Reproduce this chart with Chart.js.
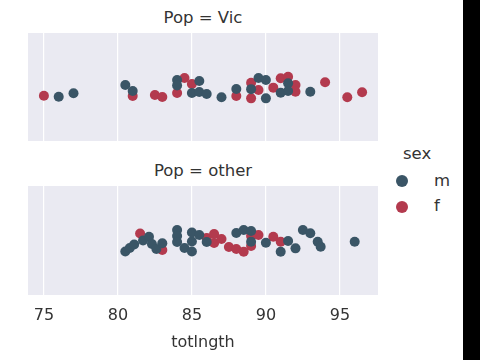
<!DOCTYPE html>
<html>
<head>
<meta charset="utf-8">
<script src="https://cdn.jsdelivr.net/npm/chart.js@4.4.1/dist/chart.umd.min.js"></script>
<style>
  body { margin: 0; background: #fff; font-family: 'DejaVu Sans', sans-serif; color: #333; }
  #wrap { position: relative; width: 480px; height: 360px; overflow: hidden; background: #fff; }
  .box { position: absolute; left: 28px; width: 350px; }
  .ttl { position: absolute; left: 28px; width: 350px; text-align: center; font-size: 16.5px; line-height: 20px; white-space: nowrap; }
  .lg { position: absolute; font-size: 16.5px; line-height: 20px; white-space: nowrap; }
  .dot { position: absolute; width: 12px; height: 12px; border-radius: 50%; }
  #edge { position: absolute; left: 463px; top: 0; width: 17px; height: 360px; background: #000; }
</style>
</head>
<body>
<div id="wrap">
  <div class="ttl" style="top:8px">Pop = Vic</div>
  <div class="box" style="top:33px;height:108px"><canvas id="vic"></canvas></div>
  <div class="ttl" style="top:161px">Pop = other</div>
  <div class="box" style="top:186px;height:174px"><canvas id="other"></canvas></div>

  <div class="lg" style="left:403px;top:144px">sex</div>
  <div class="dot" style="left:396px;top:175px;background:#3a5566"></div>
  <div class="lg" style="left:434px;top:171px">m</div>
  <div class="dot" style="left:396px;top:201px;background:#b33a4e"></div>
  <div class="lg" style="left:434px;top:196px">f</div>
  <div id="edge"></div>
</div>

<script>
// values; jitter = vertical strip offset in category units
const xTicks = [75, 80, 85, 90, 95];
const sexes  = ['m', 'f'];

const vicM    = [76.0, 77.0, 80.5, 81.0, 84.0, 84.0, 85.0, 85.5, 85.5, 86.0, 87.0, 88.0, 89.0, 89.5, 90.0, 90.0, 91.0, 91.5, 91.5, 93.0];
const vicMJit = [0.090, 0.058, -0.019, 0.037, -0.065, -0.014, 0.056, -0.056, 0.046, 0.065, 0.095, 0.019, 0.020, -0.083, -0.065, 0.105, 0.053, -0.034, 0.037, 0.044];
const vicF    = [75.0, 81.0, 82.5, 83.0, 84.0, 84.5, 85.0, 88.0, 89.0, 89.0, 89.5, 90.5, 91.0, 91.5, 92.0, 92.0, 94.0, 95.5, 96.5];
const vicFJit = [0.081, 0.083, 0.074, 0.093, 0.056, -0.083, -0.028, 0.083, -0.040, 0.105, 0.028, 0.006, -0.081, -0.095, -0.019, 0.044, -0.044, 0.095, 0.049];

const othM    = [80.5, 80.8, 81.1, 81.7, 82.1, 82.3, 82.6, 83.0, 84.0, 84.0, 84.0, 84.5, 85.0, 85.0, 85.0, 85.5, 86.0, 88.0, 88.5, 89.0, 89.0, 90.0, 91.0, 91.5, 92.0, 92.5, 93.0, 93.5, 93.7, 96.0];
const othMJit = [0.101, 0.069, 0.037, 0.000, -0.035, 0.032, 0.078, 0.026, -0.096, -0.041, 0.014, 0.069, 0.101, 0.009, -0.073, -0.050, 0.014, -0.069, -0.096, -0.087, 0.011, 0.020, 0.103, 0.005, 0.072, -0.096, -0.066, 0.011, 0.057, 0.011];
const othF    = [81.5, 83.0, 86.0, 86.5, 86.5, 87.0, 87.5, 88.0, 88.5, 89.0, 89.5, 89.0, 90.5, 91.0];
const othFJit = [-0.064, 0.087, -0.023, -0.060, 0.023, -0.014, 0.060, 0.078, 0.103, -0.041, -0.050, 0.050, -0.035, 0.011];

const COLORS = { m: '#3a5566', f: '#b33a4e' };
const PANEL  = '#eaeaf2';
const TEXT   = '#333333';

const panelBg = {
  id: 'panelBg',
  beforeDraw(chart) {
    const { ctx, chartArea: a } = chart;
    ctx.save();
    ctx.fillStyle = PANEL;
    ctx.fillRect(a.left, a.top, a.width, a.height);
    ctx.restore();
  }
};

function pts(xs, jit) {
  return xs.map((x, i) => ({ x, y: jit[i] }));
}

function buildPanel(id, m, mJit, f, fJit, withAxis) {
  const xScale = {
    type: 'linear',
    min: 73.925,
    max: 97.575,
    afterBuildTicks: s => { s.ticks = xTicks.map(v => ({ value: v })); },
    // keep the plot area flush with the panel: no extra room for edge labels
    afterFit: s => {
      s.paddingLeft = 0;
      s.paddingRight = 0;
      if (withAxis) s.height = 65;
    },
    grid: { color: '#ffffff', lineWidth: 1.2, drawTicks: false },
    border: { display: false },
    ticks: { display: withAxis, color: TEXT, padding: 11, font: { family: 'DejaVu Sans', size: 16 } },
    title: {
      display: withAxis, text: 'totlngth', color: TEXT,
      font: { family: 'DejaVu Sans', size: 16 }, padding: { top: 0, bottom: 8 }
    }
  };

  return new Chart(document.getElementById(id), {
    type: 'scatter',
    data: {
      datasets: [
        { label: sexes[0], data: pts(m, mJit), backgroundColor: COLORS.m },
        { label: sexes[1], data: pts(f, fJit), backgroundColor: COLORS.f }
      ]
    },
    options: {
      responsive: true,
      maintainAspectRatio: false,
      animation: false,
      layout: { padding: 0, autoPadding: false },
      elements: { point: { radius: 5, borderWidth: 0, hoverRadius: 5 } },
      plugins: { legend: { display: false }, tooltip: { enabled: false } },
      scales: {
        x: xScale,
        y: { type: 'linear', display: false, min: -0.5, max: 0.5, reverse: true }
      }
    },
    plugins: [panelBg]
  });
}

buildPanel('vic', vicM, vicMJit, vicF, vicFJit, false);
buildPanel('other', othM, othMJit, othF, othFJit, true);
</script>
</body>
</html>
